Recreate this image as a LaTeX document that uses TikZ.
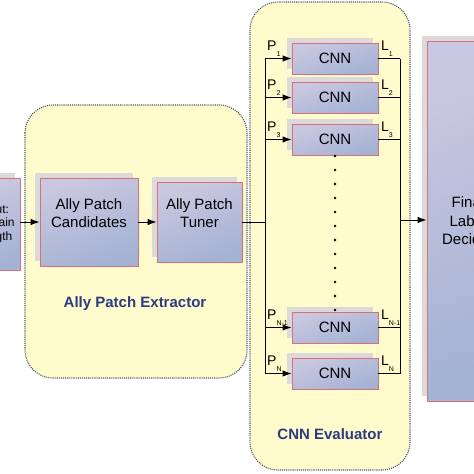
\documentclass[tikz,border=0pt]{standalone}
\usepackage{fontspec}
\setmainfont{Liberation Sans}
\usepackage{xcolor}
\usetikzlibrary{arrows.meta,shadows,positioning,calc}
\tikzset{>={Latex[length=9pt,width=6.5pt]}}
\definecolor{boxtop}{RGB}{202,200,224}
\definecolor{boxbot}{RGB}{164,178,212}
\definecolor{boxline}{RGB}{214,112,122}
\definecolor{shadowgray}{RGB}{222,217,217}
\definecolor{frameyellow}{RGB}{255,251,204}
\definecolor{frameline}{RGB}{78,88,104}
\definecolor{titleblue}{RGB}{42,60,130}
\newcommand{\lowsub}[1]{\raisebox{-6.5pt}{\fontsize{7}{7}\selectfont #1}}

\begin{document}
\begin{tikzpicture}[x=1pt,y=-1pt,
  block/.style={draw=boxline, line width=0.8pt, top color=boxtop, bottom color=boxbot, shading angle=20,
    drop shadow={shadow xshift=-5pt, shadow yshift=5pt, fill=shadowgray, opacity=1},
    align=center, inner sep=0pt, font=\fontsize{15}{17.5}\selectfont},
  groupframe/.style={draw=frameline, densely dotted, line width=1.1pt, fill=frameyellow, rounded corners=28pt},
  grouptitle/.style={font=\fontsize{15}{17}\selectfont\bfseries, text=titleblue},
  plabel/.style={anchor=base west, inner sep=0pt, font=\fontsize{14}{14}\selectfont},
  wire/.style={line width=1pt}]
\useasboundingbox (0,0) rectangle (474,474);
\clip (0,0) rectangle (474,474);
\fill[white] (0,0) rectangle (474,474);

% group frames
\draw[groupframe] (25,105) rectangle (247,378);
\draw[groupframe] (250,2) rectangle (410,470);

% input and extractor
\node[block, minimum width=52pt, minimum height=92pt, font=\fontsize{12}{13.5}\selectfont] (input) at (-6,224)
  {Input:\\Domain\\Length};
\node[block, minimum width=98pt, minimum height=88pt] (cand) at (89,222) {Ally Patch\\Candidates\\\mbox{}};
\node[block, minimum width=85pt, minimum height=80pt] (tuner) at (199.5,222) {Ally Patch\\Tuner\\\mbox{}};
\node[grouptitle] (apetitle) at (135,304) {Ally Patch Extractor};
\draw[wire,->] (input.east |- cand) -- (cand);
\draw[wire,->] (cand) -- (tuner);

% final decision
\node[block, minimum width=82pt, minimum height=360pt, font=\fontsize{15}{18.5}\selectfont] (final) at (468,221)
  {Final\\Label\\Decider};

% CNN evaluator
\foreach \y/\s [count=\i] in {58.5/1, 97.5/2, 139.5/3, 327.5/N-1, 373.5/N} {
  \node[block, minimum width=86pt, minimum height=31pt] (cnn\i) at (335,\y) {CNN};
  \coordinate (pin\i) at (265,\y);
  \coordinate (pout\i) at (400,\y);
  \draw[wire,->] (pin\i) -- (cnn\i);
  \draw[wire] (cnn\i) -- (pout\i);
  \node[plabel] (p\i) at (267,\y-8.5) {P\lowsub{\s}};
  \node[plabel] (l\i) at (381,\y-8.5) {L\lowsub{\s}};
}
\foreach \k in {0,...,11}
  \fill (335,156+14*\k) circle (1.3pt);
\draw[wire] (pin1) -- (pin5);
\draw[wire] (pout1) -- (pout5);
\coordinate (busin) at (265,222);
\coordinate (busout) at (400,220);
\draw[wire] (tuner) -- (busin);
\draw[wire,->] (busout) -- (busout -| final.west);
\node[grouptitle] (cnntitle) at (330,434) {CNN Evaluator};
\end{tikzpicture}
\end{document}
